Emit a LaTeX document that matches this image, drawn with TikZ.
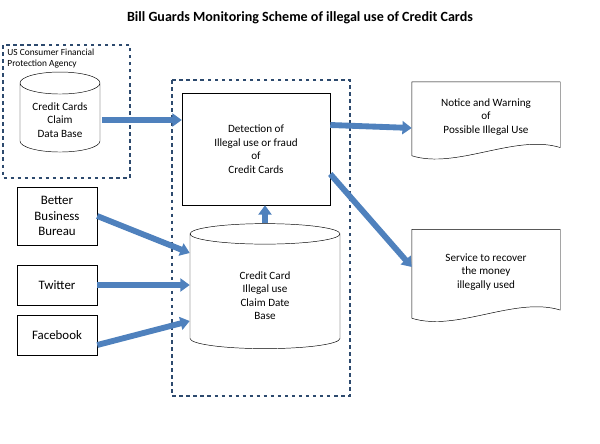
\documentclass[tikz,border=0pt]{standalone}
\usepackage{fontspec}
\setmainfont{Carlito}
\usetikzlibrary{shapes.geometric,arrows.meta}
\definecolor{blk}{HTML}{4F81BD}
\definecolor{blkd}{HTML}{385D8A}
\begin{document}
\begin{tikzpicture}[x=0.03cm,y=-0.03cm,
 box/.style={draw,thin,align=center,font=\fontsize{11}{13}\selectfont},
 dbox/.style={draw=blkd!80!black,dashed,line width=1.2pt},
 cyl/.style={cylinder,shape border rotate=90,draw,aspect=0.35,align=center,font=\fontsize{9.5}{11.5}\selectfont},
 fat/.style={line width=5pt,blk,-{Triangle[width=11pt,length=8pt]}},
 doctext/.style={align=center,font=\fontsize{9.5}{11.5}\selectfont}]
\useasboundingbox (0,0) rectangle (600,443);
\node[font=\bfseries\fontsize{12}{14}\selectfont] (title) at (300,18) {Bill Guards Monitoring Scheme of illegal use of Credit Cards};
\draw[dbox] (3,45) rectangle (130,178);
\node[anchor=north west,align=left,font=\fontsize{8}{9}\selectfont,inner sep=1pt] (agency) at (6,48) {US Consumer Financial\\Protection Agency};
\node[cyl,minimum width=80*0.03cm,minimum height=80*0.03cm] (db1) at (60,120) {Credit Cards\\Claim\\Data Base};
\draw[dbox] (172,80) rectangle (350,396);
\node[box,minimum width=148*0.03cm,minimum height=112*0.03cm,font=\fontsize{9.5}{11.5}\selectfont] (det) at (256,149) {Detection of\\Illegal use or fraud\\of\\Credit Cards};
\node[cyl,minimum width=150*0.03cm,minimum height=125*0.03cm] (db2) at (265,293) {\\Credit Card\\Illegal use\\Claim Date\\Base};
\node[box,minimum width=80*0.03cm,minimum height=58*0.03cm] (bbb) at (57,216) {Better\\Business\\Bureau};
\node[box,minimum width=80*0.03cm,minimum height=40*0.03cm] (tw) at (57,285) {Twitter};
\node[box,minimum width=80*0.03cm,minimum height=40*0.03cm] (fb) at (57,335) {Facebook};
\node[doctext,minimum width=148*0.03cm,minimum height=70*0.03cm] (doc1) at (486,117) {Notice and Warning\\of\\Possible Illegal Use};
\draw[thin] (doc1.north west) -- (doc1.north east) -- ([yshift=4pt]doc1.south east) .. controls +(-45,-14) and +(45,14) .. ([yshift=-3pt]doc1.south west) -- cycle;
\node[doctext,minimum width=148*0.03cm,minimum height=85*0.03cm] (doc2) at (486,272) {Service to recover\\the money\\illegally used};
\draw[thin] (doc2.north west) -- (doc2.north east) -- ([yshift=4pt]doc2.south east) .. controls +(-45,-14) and +(45,14) .. ([yshift=-3pt]doc2.south west) -- cycle;
\draw[fat] ([xshift=2*0.03cm]db1.east) -- (det.west |- db1.east);
\draw[fat] ([yshift=24*0.03cm]det.east) -- ([yshift=-11*0.03cm]doc1.west);
\draw[fat] (db2.north) -- (det.south -| db2.north);
\draw[fat] ([yshift=-25*0.03cm]det.east) -- ([yshift=5*0.03cm]doc2.west);
\draw[fat] (bbb.east) -- ([yshift=40*0.03cm]db2.west);
\draw[fat] (tw.east) -- (db2.west |- tw.east);
\draw[fat] ([yshift=-10*0.03cm]fb.east) -- ([yshift=-28*0.03cm]db2.west);
\end{tikzpicture}
\end{document}
